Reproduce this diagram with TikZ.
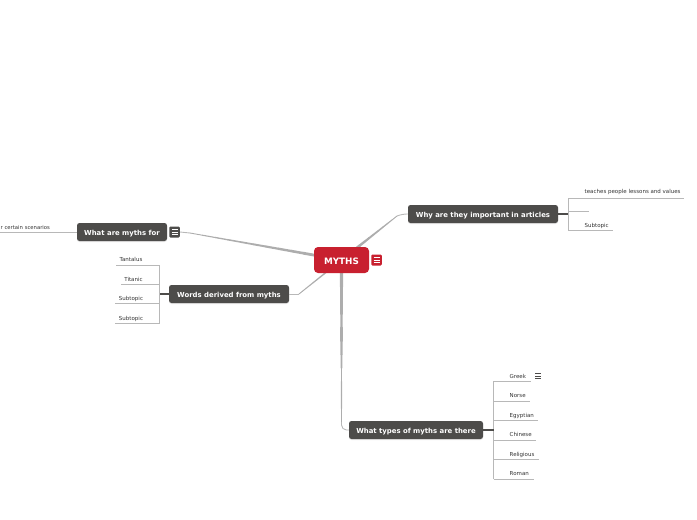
\documentclass[tikz,border=0pt]{standalone}
\usepackage{fontspec}
\setmainfont{DejaVu Sans}
\usetikzlibrary{shadows,calc}
\definecolor{rootred}{HTML}{C8202F}
\definecolor{boxgray}{HTML}{4D4C4A}
\definecolor{linegray}{HTML}{B8B8B8}
\definecolor{trunkgray}{HTML}{ADADAD}
\tikzset{
	topicbox/.style={fill=boxgray,rounded corners=2.5pt,text=white,font=\bfseries\fontsize{6.9}{8}\selectfont,minimum height=18pt,inner sep=0pt,text height=6pt,text depth=0pt,drop shadow={shadow xshift=0pt,shadow yshift=-1pt,opacity=0.18}},
	rootbox/.style={fill=rootred,rounded corners=4pt,text=white,font=\bfseries\fontsize{8.8}{10}\selectfont,minimum width=55pt,minimum height=26pt,inner sep=0pt,text height=8.4pt,text depth=0pt},
	leaftext/.style={font=\fontsize{5.5}{6.5}\selectfont,text=black!80,inner sep=0pt},
	iconbox/.style={rounded corners=1.2pt,minimum width=10.5pt,minimum height=11pt,inner sep=0pt},
	twig/.style={draw=linegray,line width=0.9pt},
	stem/.style={draw=boxgray,line width=1.1pt},
	thinbranch/.style={draw=linegray,line width=0.9pt,rounded corners=5pt}
}
% rama que se adelgaza
\newcommand{\branchtaper}[3]{
	\foreach \i [evaluate=\i as \j using int(\i+1)] in {0,...,11}
		\draw[trunkgray,line width={(#3-(#3-0.9)*\i/11)*1pt},line cap=round] ($(#1)!\i/12!(#2)$) -- ($(#1)!\j/12!(#2)$);
}
\begin{document}
\begin{tikzpicture}[x=1pt,y=-1pt]
	\useasboundingbox (0,0) rectangle (697,520);

% ramas principales
	\coordinate (rootc) at (341.5,260);
	\coordinate (whyknee) at (397,216);
	\coordinate (forknee) at (190,233);
	\coordinate (wordsknee) at (299,294);
	\coordinate (typesknee) at (341.5,422);
	\coordinate (iconfor) at (180,232);

	\branchtaper{rootc}{whyknee}{3.2}
	\branchtaper{rootc}{forknee}{3.2}
	\branchtaper{rootc}{typesknee}{3.4}
	\branchtaper{rootc}{wordsknee}{1.8}

% temas
	\node[rootbox] (myths) at (341.5,260) {MYTHS};
	\node[topicbox,minimum width=150pt] (why) at (483,214) {Why are they important in articles};
	\node[topicbox,minimum width=90pt] (forbox) at (122,232) {What are myths for};
	\node[topicbox,minimum width=120pt] (words) at (229,294) {Words derived from myths};
	\node[topicbox,minimum width=134pt] (types) at (416,430) {What types of myths are there};

	\draw[thinbranch] (whyknee) -- (402,214) -- (why.west);
	\draw[thinbranch] (iconfor) -- (forknee);
	\draw[thinbranch] (words.east) -- (wordsknee);
	\draw[thinbranch] (typesknee) |- (types.west);

% iconos
	\node[iconbox,fill=rootred] (iconroot) at (376.5,260) {};
	\node[iconbox,fill=boxgray] (iconwhat) at (174.5,232) {};
	\foreach \d in {-2.6,0,2.6} {
		\draw[white,line width=0.6pt] (373.5,260+\d) -- (379.5,260+\d);
		\draw[white,line width=0.6pt] (171.5,232+\d) -- (177.5,232+\d);
		\draw[boxgray,line width=0.7pt] (535,376+\d) -- (541,376+\d);
	}

% hojas de why
	\coordinate (whyfork) at (568,214);
	\coordinate (whytop) at (568,198);
	\coordinate (whybot) at (568,230);
	\draw[twig] (whytop) -- (whybot);
	\draw[stem] (why.east) -- (whyfork);
	\node[leaftext,anchor=west] (teaches) at (584.5,192) {teaches people lessons and values};
	\node[leaftext,anchor=west] (whysub) at (584.5,225.5) {Subtopic};
	\coordinate (teachesend) at (684,198);
	\coordinate (blankstart) at (568,211);
	\coordinate (blankend) at (589,211);
	\coordinate (whysubend) at (613,230);
	\draw[twig] (whytop) -- (teachesend);
	\draw[twig] (blankstart) -- (blankend);
	\draw[twig] (whybot) -- (whysubend);

% hoja de for
	\node[leaftext,anchor=west,font=\fontsize{5.3}{6.5}\selectfont] (scenarios) at (0.5,227.5) {r certain scenarios};
	\coordinate (forend) at (0,232);
	\draw[twig] (forbox.west) -- (forend);

% hojas de words
	\coordinate (wordsfork) at (159.5,294);
	\coordinate (wordstop) at (159.5,265);
	\coordinate (wordsbot) at (159.5,323);
	\draw[twig] (wordstop) -- (wordsbot);
	\draw[stem] (words.west) -- (wordsfork);
	\foreach \name/\txt/\cx/\ty/\ly/\xend in {tantalus/Tantalus/131/259.5/265/116, titanic/Titanic/133.5/279.5/284/121, subone/Subtopic/131/298.5/303.5/115, subtwo/Subtopic/131/318.5/323/115} {
		\node[leaftext] (\name) at (\cx,\ty) {\txt};
		\coordinate (\name a) at (159.5,\ly);
		\coordinate (\name b) at (\xend,\ly);
		\draw[twig] (\name a) -- (\name b);
	}

% hojas de types
	\coordinate (typesfork) at (493.5,430);
	\coordinate (typestop) at (493.5,381);
	\coordinate (typesbot) at (493.5,479);
	\draw[twig] (typestop) -- (typesbot);
	\draw[stem] (types.east) -- (typesfork);
	\foreach \name/\txt/\ty/\ly/\xend in {greek/Greek/376.5/381/531, norse/Norse/395.5/401/530, egyptian/Egyptian/415.5/420.5/538, chinese/Chinese/434.5/440/536, religious/Religious/454.5/459.5/539, roman/Roman/473.5/479/534} {
		\node[leaftext,anchor=west] (\name) at (509.5,\ty) {\txt};
		\coordinate (\name a) at (493.5,\ly);
		\coordinate (\name b) at (\xend,\ly);
		\draw[twig] (\name a) -- (\name b);
	}
\end{tikzpicture}
\end{document}
